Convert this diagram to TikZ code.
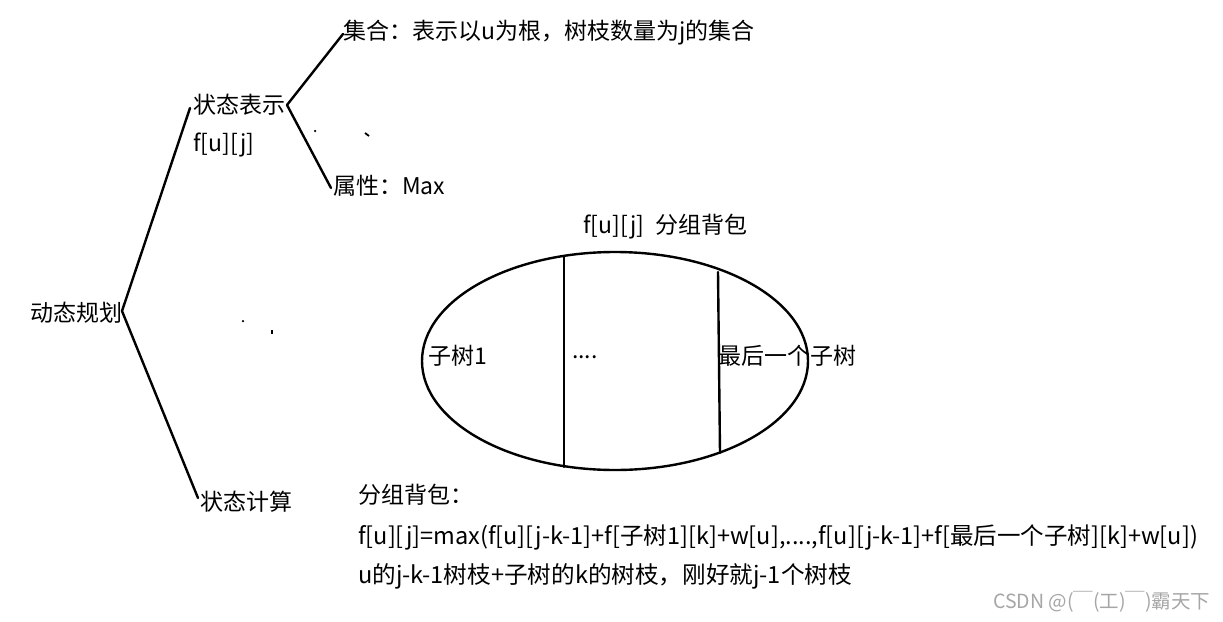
\documentclass[tikz,border=0pt]{standalone}
\usepackage{fontspec}
\setmainfont{Noto Sans CJK SC}
\usetikzlibrary{shapes.geometric}
\begin{document}
\begin{tikzpicture}[x=1pt,y=-1pt,
  lbl/.style={inner sep=0pt,anchor=west,font=\fontsize{23}{26}\selectfont},
  ln/.style={line width=2.4pt,line cap=round},
  mk/.style={fill=black,inner sep=0pt,minimum size=2.5pt,circle}]
\useasboundingbox (0,0) rectangle (1223,621);
\fill[white] (0,0) rectangle (1223,621);
% labels
\node[lbl] (dp) at (30,313) {动态规划};
\node[lbl] (ztbs) at (193,105) {状态表示};
\node[lbl] (fuj) at (193,145) {f[u][j]};
\node[lbl] (jh) at (343,33) {集合：表示以u为根，树枝数量为j的集合};
\node[lbl] (sx) at (333,186) {属性：Max};
\node[lbl] (ztjs) at (200,502) {状态计算};
\node[lbl] (title) at (583,227) {f[u][j]\hspace{0.5em}分组背包};
% connectors
\coordinate (dpR) at (122,311);
\coordinate (ztbsL) at (190,108);
\coordinate (ztjsL) at (198,498);
\coordinate (ztbsR) at (287,105);
\coordinate (jhL) at (343,34);
\coordinate (sxL) at (331,188);
\draw[ln] (dpR) -- (ztbsL);
\draw[ln] (dpR) -- (ztjsL);
\draw[ln] (ztbsR) -- (jhL);
\draw[ln] (ztbsR) -- (sxL);
% stray marks
\node[mk] (m1) at (315,131) {};
\draw[line width=1.8pt] (365,133) -- (369,136);
\node[mk] (m3) at (243,321) {};
\draw[line width=1.8pt] (272,330) -- (272,334);
% ellipse
\node[draw,ellipse,line width=2.4pt,minimum width=386pt,minimum height=218pt,inner sep=0pt] (el) at (615,361) {};
\draw[ln] (564,257) -- (564,467);
\draw[ln] (718,272) -- (720,453);
\node[lbl] (s1) at (428,356) {子树1};
\node[lbl] (dots) at (572,357) {....};
\node[lbl] (last) at (718,356) {最后一个子树};
% bottom texts
\node[lbl] (fz) at (358,495) {分组背包：};
\node[lbl,font=\fontsize{23.5}{26}\selectfont] (eq) at (358,537) {f[u][j]=max(f[u][j-k-1]+f[子树1][k]+w[u],....,f[u][j-k-1]+f[最后一个子树][k]+w[u])};
\node[lbl,font=\fontsize{23.6}{26}\selectfont] (ex) at (358,576) {u的j-k-1树枝+子树的k的树枝，刚好就j-1个树枝};
\node[inner sep=0pt,anchor=west,text=black!35,font=\fontsize{19.5}{22}\selectfont] (wm) at (993,602) {CSDN @(￣(工)￣)霸天下};
\end{tikzpicture}
\end{document}
